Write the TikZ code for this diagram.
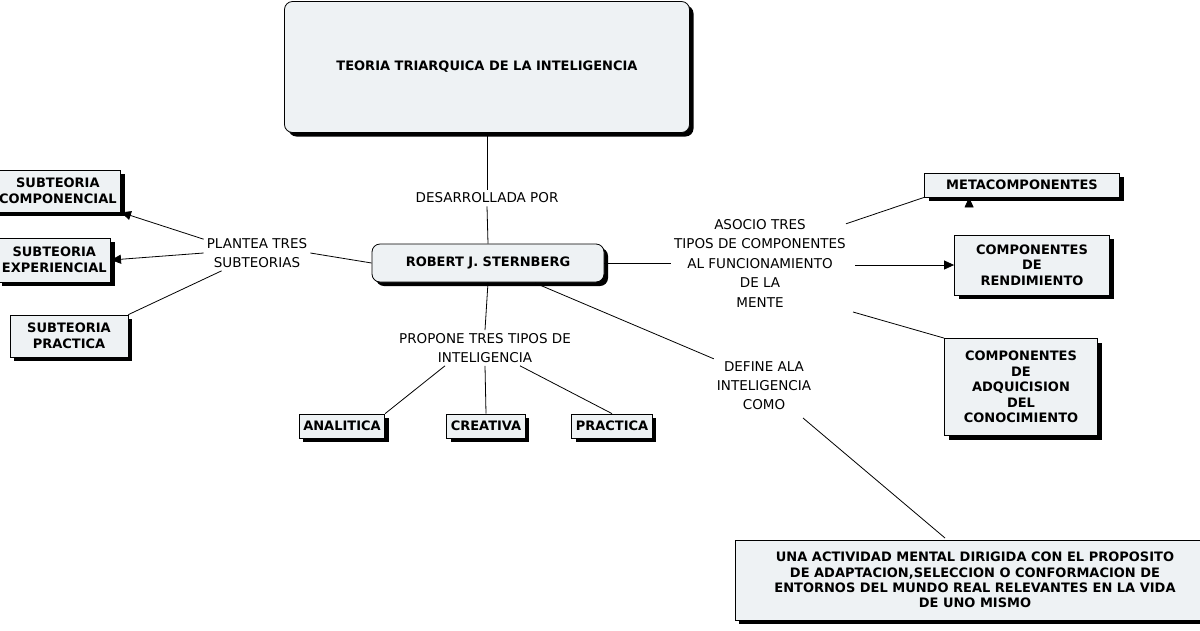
\documentclass[tikz,border=0pt]{standalone}
\usepackage{fontspec}
\setmainfont{DejaVu Sans}
\usetikzlibrary{shadows,arrows.meta}
\definecolor{boxfill}{HTML}{EEF2F4}
\tikzset{
 bx/.style={draw=black,thick,fill=boxfill,font=\fontsize{13}{15.5}\selectfont\bfseries,align=center,inner sep=4pt,
   drop shadow={shadow xshift=4pt,shadow yshift=-4pt,fill=black,opacity=1}},
 rbx/.style={bx,rounded corners=8pt},
 lbl/.style={font=\fontsize{13.5}{19}\selectfont,align=center,inner sep=3pt},
 ln/.style={draw=black,line width=0.8pt},
 ar/.style={ln,-{Triangle[length=10pt,width=9pt]}}
}
\begin{document}
\begin{tikzpicture}[x=1pt,y=-1pt]
\fill[white] (0,0) rectangle (1200,630);
\clip (0,0) rectangle (1200,630);
\useasboundingbox (0,0) rectangle (1200,630);
\node[rbx,minimum width=405pt,minimum height=131pt] (title) at (487,67) {TEORIA TRIARQUICA DE LA INTELIGENCIA};
\node[rbx,minimum width=232pt,minimum height=38pt] (rob) at (488,263) {ROBERT J. STERNBERG};
\node[bx,anchor=east,minimum height=42pt] (sc) at (121,191) {SUBTEORIA\\COMPONENCIAL};
\node[bx,anchor=east,minimum height=44pt] (se) at (111,260) {SUBTEORIA\\EXPERIENCIAL};
\node[bx,minimum width=118pt,minimum height=42pt] (sp) at (69,336) {SUBTEORIA\\PRACTICA};
\node[lbl] (plan) at (257,253) {PLANTEA TRES\\SUBTEORIAS};
\node[lbl] (des) at (487,198) {DESARROLLADA POR};
\node[lbl] (prop) at (485,348) {PROPONE TRES TIPOS DE\\INTELIGENCIA};
\node[bx,minimum height=24pt] (an) at (342,426) {ANALITICA};
\node[bx,minimum height=24pt] (cr) at (486,426) {CREATIVA};
\node[bx,minimum height=24pt] (pr) at (612,426) {PRACTICA};
\node[lbl,font=\fontsize{13.5}{19.5}\selectfont] (aso) at (760,263) {ASOCIO TRES\\TIPOS DE COMPONENTES\\AL FUNCIONAMIENTO\\DE LA\\MENTE};
\node[bx,minimum width=195pt,minimum height=24pt] (meta) at (1022,185) {METACOMPONENTES};
\node[bx,minimum width=155pt,minimum height=60pt] (rend) at (1032,265) {COMPONENTES\\DE\\RENDIMIENTO};
\node[bx,minimum width=153pt,minimum height=97pt] (adq) at (1021,387) {COMPONENTES\\DE\\ADQUICISION\\DEL\\CONOCIMIENTO};
\node[lbl] (def) at (764,386) {DEFINE ALA\\INTELIGENCIA\\COMO};
\node[bx,minimum width=480pt,minimum height=80pt,font=\fontsize{13}{15.3}\selectfont\bfseries] (una) at (975,580) {UNA ACTIVIDAD MENTAL DIRIGIDA CON EL PROPOSITO\\DE ADAPTACION,SELECCION O CONFORMACION DE\\ENTORNOS DEL MUNDO REAL RELEVANTES EN LA VIDA\\DE UNO MISMO};
\draw[ln] (title.south) -- (des.north);
\draw[ln] (des.south) -- (rob.north);
\draw[ln] (rob.west) -- (plan.east);
\draw[ar] (plan.north west) ++(0,4) -- (sc.south east);
\draw[ar] (plan.west) -- (se.east);
\draw[ln] (plan.south west) ++(18,0) -- (sp.north east);
\draw[ln] (rob.south) -- (prop.north);
\draw[ln] (prop.south) ++(-40,0) -- (an.north east);
\draw[ln] (prop.south) -- (cr.north);
\draw[ln] (prop.south) ++(35,0) -- (pr.north);
\draw[ln] (rob.east) -- (aso.west);
\draw[ar] (aso.north east) ++(-3,8) -- (meta.south west) ++(45,0);
\draw[ar] (855,265) coordinate (a2) -- (rend.west);
\draw[ln] (853,312) coordinate (a3) -- (adq.north west);
\draw[ln] (535,283) coordinate (r1) -- (def.north west);
\draw[ln] (803,418) coordinate (d1) -- (945,538) coordinate (u1);
\end{tikzpicture}
\end{document}
